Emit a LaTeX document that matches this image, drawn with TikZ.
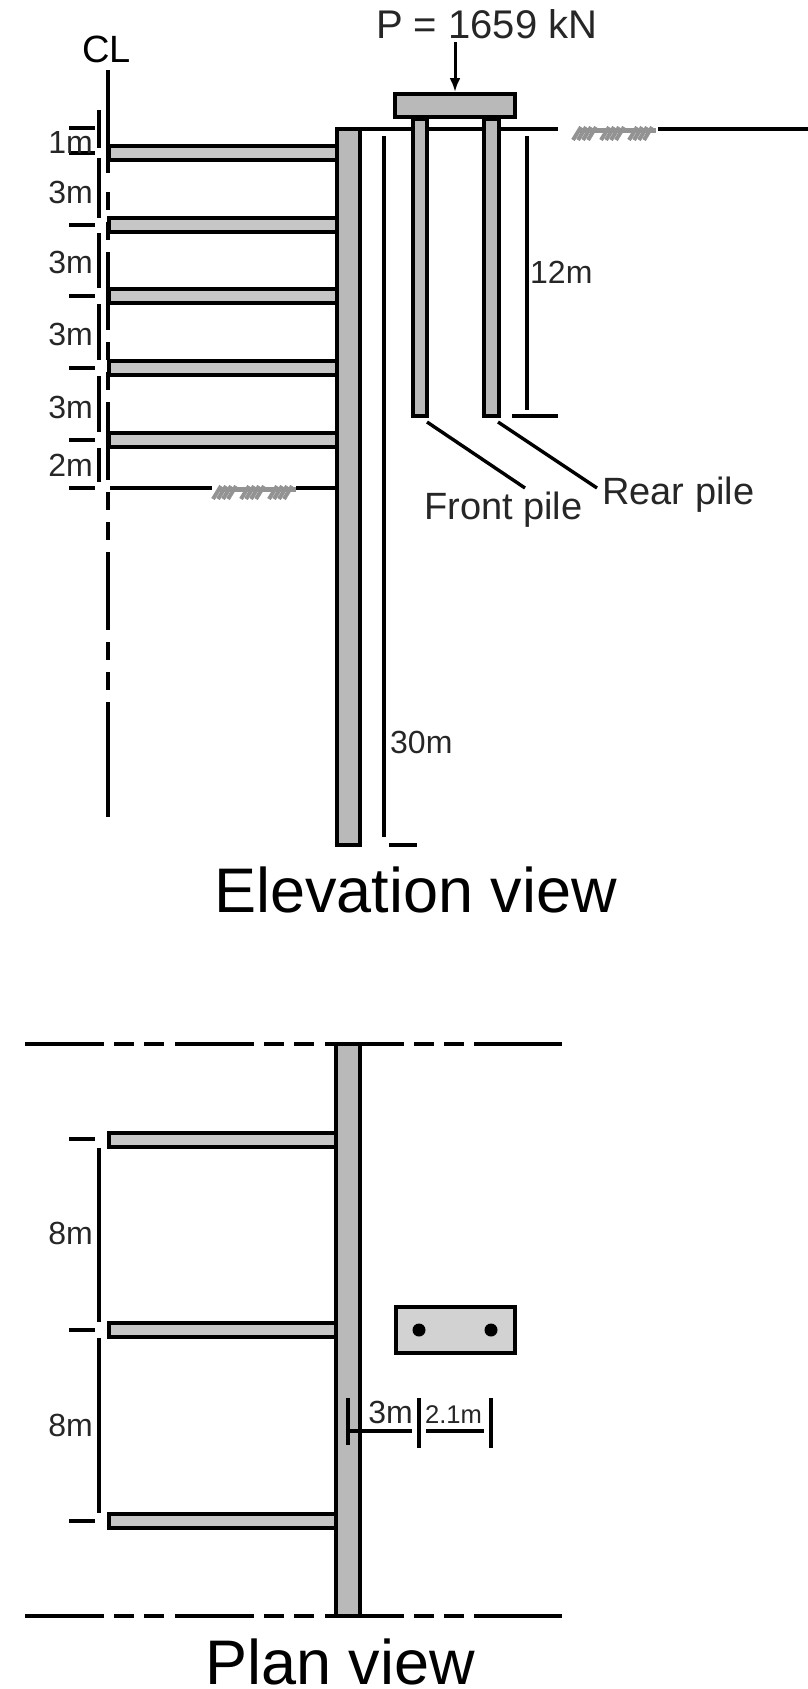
\documentclass[tikz,border=0pt]{standalone}
\usepackage{fontspec}
\setmainfont{Liberation Sans}
\usetikzlibrary{arrows.meta,arrows}
\tikzset{
member/.style={
  draw=black,
  line width=4,
  fill=gray!55!white
  },
thinmember/.style={
  member,
  line width=4.5,
  fill=gray!45!white
  },
heavyline/.style={
  draw=black,
  line width=4
  },
dimline/.style={
  draw=black,
  line width=3.4
  },
dimtext/.style={
  inner sep=0,
  text=black!85,
  font=\fontsize{32}{36}\selectfont
  },
labeltext/.style={
  inner sep=0,
  anchor=base west,
  text=black!85,
  font=\fontsize{38}{42}\selectfont
  },
titletext/.style={
  inner sep=0,
  anchor=base west,
  font=\fontsize{63}{70}\selectfont
  },
planedge/.style={
  heavyline,
  dash pattern=on 79pt off 10pt on 20pt off 10pt on 20pt off 11pt
  }
}

\begin{document}
\begin{tikzpicture}[>=latex,x=1pt,y=-1pt]
            \useasboundingbox (0,0) rectangle (808,1689);
            % elevation: ground
            \draw[heavyline] (337,129) -- (558,129);
            \draw[heavyline] (658,129) -- (808,129);
            \draw[heavyline,line width=3.4] (110,488) -- (212,488);
            \draw[heavyline,line width=3.4] (296,488) -- (337,488);
            \foreach \hx/\hy in {212/486,572/127}
              \foreach \hk in {0,28,56}
                \foreach \hs in {0,5,10,15}
                  \draw[gray!85!white,line width=4] (\hx+\hk+\hs+9,\hy) -- (\hx+\hk+\hs+1,\hy+13);
            \foreach \hx/\hy in {212/486,572/127}
              \draw[gray!85!white,line width=5] (\hx+6,\hy+3) -- (\hx+84,\hy+3);
            % struts
            \foreach \sy in {153,225,296,368,440}
              \draw[thinmember] (109,\sy-7) rectangle (337,\sy+7);
            % wall, cap and piles
            \draw[member] (337,129) rectangle (360,845);
            \draw[member] (413,119) rectangle (427,416);
            \draw[member] (484,119) rectangle (499,416);
            \draw[member] (395,94) rectangle (515,117);
            % centre line
            \draw[heavyline,line width=3.4] (108,70) -- (108,173);
            \draw[heavyline,line width=3.4,dash pattern=on 18pt off 12pt on 18pt off 12pt on 78pt off 12pt] (108,192) -- (108,690);
            \draw[heavyline,line width=3.4] (108,702) -- (108,817);
            \node[inner sep=0,font=\fontsize{38}{42}\selectfont] (cllabel) at (106.5,49) {CL};
            % left dimensions
            \foreach \ty in {128,153,225,296,368,440,488}
              \draw[heavyline] (69,\ty) -- (95,\ty);
            \foreach \dya/\dyb in {110/148,158/218,233/288,304/360,376/432,448/482}
              \draw[dimline] (99,\dya) -- (99,\dyb);
            \node[dimtext] (tag1m) at (70.5,142) {1m};
            \foreach \ly/\lname in {192/a,262/b,334/c,407/d}
              \node[dimtext] (tag3m\lname) at (70.5,\ly) {3m};
            \node[dimtext] (tag2m) at (70.5,465) {2m};
            % right dimensions
            \draw[dimline] (384,136) -- (384,837);
            \draw[heavyline] (389,845) -- (417,845);
            \node[dimtext,anchor=west] (tag30m) at (390,742) {30m};
            \draw[dimline] (527,136) -- (527,410);
            \draw[heavyline] (512,416) -- (558,416);
            \node[dimtext,anchor=west] (tag12m) at (530,272) {12m};
            % load
            \node[labeltext,font=\fontsize{40}{44}\selectfont] (load) at (376,38) {P = 1659 kN};
            \coordinate (loadtop) at (455,42);
            \coordinate (loadend) at (455,92);
            \draw[-{Latex[length=14pt,width=11pt]},line width=3] (loadtop) -- (loadend);
            % pile labels
            \node[labeltext] (frontlabel) at (424,519) {Front pile};
            \node[labeltext] (rearlabel) at (602,504) {Rear pile};
            \coordinate (fronttip) at (427,422);
            \coordinate (reartip) at (498,422);
            \draw[dimline] (fronttip) -- (525,488);
            \draw[dimline] (reartip) -- (597,488);
            \node[titletext] (elevtitle) at (214,912) {Elevation view};
            % plan
            \draw[planedge] (25,1044) -- (470,1044);
            \draw[heavyline] (474,1044) -- (562,1044);
            \draw[planedge] (25,1616) -- (470,1616);
            \draw[heavyline] (474,1616) -- (562,1616);
            \foreach \sy in {1140,1330,1521}
              \draw[thinmember] (109,\sy-7) rectangle (337,\sy+7);
            \draw[member] (335.5,1044) rectangle (359.5,1616);
            \draw[member,fill=gray!35!white] (396,1307) rectangle (515,1353);
            \fill (419,1330) circle (6.5);
            \fill (491,1330) circle (6.5);
            % plan dimensions
            \foreach \ty in {1139,1330,1521}
              \draw[heavyline] (69,\ty) -- (95,\ty);
            \draw[dimline] (99,1148) -- (99,1322);
            \draw[dimline] (99,1338) -- (99,1513);
            \node[dimtext] (tag8ma) at (70.5,1233) {8m};
            \node[dimtext] (tag8mb) at (70.5,1425) {8m};
            \draw[heavyline] (348,1398) -- (348,1445);
            \draw[heavyline] (419,1398) -- (419,1448);
            \draw[heavyline] (491,1398) -- (491,1448);
            \draw[dimline] (348,1431) -- (412,1431);
            \draw[dimline] (426,1431) -- (484,1431);
            \node[dimtext] (tag3mp) at (390.5,1412) {3m};
            \node[dimtext,font=\fontsize{25.6}{28}\selectfont] (tag21m) at (453.5,1415) {2.1m};
            \node[titletext] (plantitle) at (205,1684) {Plan view};
        \end{tikzpicture}
\end{document}
